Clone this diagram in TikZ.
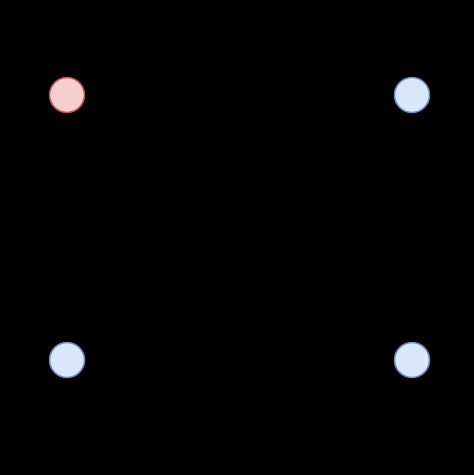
\documentclass[tikz,border=0pt]{standalone}
\definecolor{redfill}{HTML}{F8CECC}
\definecolor{redline}{HTML}{B85450}
\definecolor{bluefill}{HTML}{DAE8FC}
\definecolor{blueline}{HTML}{6C8EBF}
\begin{document}
\begin{tikzpicture}[x=1pt,y=-1pt,
  dot/.style={circle,minimum size=35pt,inner sep=0pt,line width=1.5pt},
  reddot/.style={dot,draw=redline,fill=redfill},
  bluedot/.style={dot,draw=blueline,fill=bluefill}]
\fill[black] (0,0) rectangle (474,475);
\useasboundingbox (0,0) rectangle (474,475);
\node[reddot] (a) at (67,95) {};
\node[bluedot] (b) at (412,95) {};
\node[bluedot] (c) at (67,360) {};
\node[bluedot] (d) at (412,360) {};
\end{tikzpicture}
\end{document}
